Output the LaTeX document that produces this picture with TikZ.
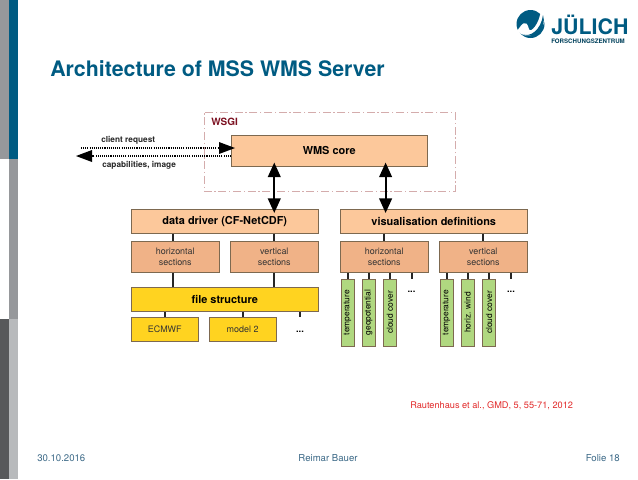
\documentclass[tikz,border=0pt]{standalone}
\usepackage{fontspec}
\setmainfont{TeX Gyre Heros}
\usetikzlibrary{arrows.meta}
\definecolor{juelichblue}{RGB}{0,91,130}
\definecolor{stripegray}{RGB}{150,152,155}
\definecolor{stripedark}{RGB}{88,89,91}
\definecolor{stripelight}{RGB}{184,186,188}
\definecolor{coreorange}{RGB}{252,200,155}
\definecolor{sectionorange}{RGB}{240,178,135}
\definecolor{fileyellow}{RGB}{255,211,32}
\definecolor{modelgreen}{RGB}{176,216,128}
\definecolor{boxedge}{RGB}{125,105,80}
\definecolor{wsgired}{RGB}{123,16,32}
\definecolor{footerblue}{RGB}{60,105,135}
\tikzset{
  corebox/.style={draw=boxedge,fill=coreorange,anchor=north west,inner sep=0pt,align=center,text=black,font=\fontsize{8.2}{10}\selectfont\bfseries},
  sectionbox/.style={draw=boxedge,fill=sectionorange,anchor=north west,inner sep=0pt,align=center,text=black!80,font=\fontsize{6.7}{8.6}\selectfont,minimum width=66pt,minimum height=23.25pt},
  filebox/.style={draw=boxedge,fill=fileyellow,anchor=north west,inner sep=0pt,align=center,text=black!80,font=\fontsize{6.7}{8.6}\selectfont,minimum height=18pt},
  quantitybox/.style={draw=boxedge,fill=modelgreen,rotate=90,inner sep=0pt,text=black,font=\fontsize{6.3}{8}\selectfont,minimum width=50.25pt,minimum height=10pt},
  tick/.style={draw=black!85,line width=1.5pt},
  corearrow/.style={black,line width=1.6pt,{Triangle[length=11pt,width=9.5pt]}-{Triangle[length=11pt,width=9.5pt]},shorten <=-3pt,shorten >=-3pt},
  dataflow/.style={black,line width=2.2pt,dash pattern=on 0.8pt off 0.8pt,-{Triangle[length=12pt,width=9pt,line width=0pt,round=false]}},
  flowlabel/.style={inner sep=0pt,anchor=west,text=black!85,font=\fontsize{6.2}{8}\selectfont\bfseries},
  dotsmark/.style={inner sep=0pt,font=\fontsize{7}{8}\selectfont\bfseries},
  footertext/.style={inner sep=0pt,text=footerblue,font=\fontsize{7.2}{9}\selectfont}
}
\begin{document}
\begin{tikzpicture}[x=0.75pt,y=0.75pt,yscale=-1,xscale=1]
\useasboundingbox (0,0) rectangle (638,479);

% side stripes
\fill [stripegray] (0,0) rectangle (9,159);
\fill [juelichblue] (9,0) rectangle (17.5,159);
\fill [stripegray] (9,159) rectangle (17.5,319);
\fill [stripedark] (0,319) rectangle (9,479);
\fill [stripelight] (9,319) rectangle (17.5,479);

% logo
\fill [juelichblue] (530.5,24) circle [radius=14];
\fill [white] (517,31) .. controls (522,24) and (526,18) .. (529,29) .. controls (530,34) and (540,24) .. (541,9) -- (546,11) .. controls (548,24) and (536,37) .. (526,35.5) .. controls (522,35) and (519,33) .. (517,31) -- cycle ;
\fill [juelichblue] (522,34) .. controls (530,38) and (541,30) .. (543,15) .. controls (547,28) and (536,40) .. (522,34) -- cycle ;
\node (logoname) [inner sep=0pt,anchor=west,text=juelichblue,font=\fontsize{16}{16}\selectfont\bfseries] at (551,25) {JÜLICH};
\node (logosub) [inner sep=0pt,anchor=west,text=juelichblue!70!black,font=\fontsize{4.6}{5}\selectfont\bfseries] at (551,41) {FORSCHUNGSZENTRUM};

% title
\node (title) [inner sep=0pt,anchor=west,text=juelichblue,font=\fontsize{16}{18}\selectfont\bfseries] at (50,69) {Architecture of MSS WMS Server};

% WSGI frame
\node (wsgiframe) [draw={rgb,255:red,212;green,172;blue,172},dash pattern=on 6pt off 2pt on 1pt off 2pt,anchor=north west,inner sep=0pt,minimum width=188.5pt,minimum height=59.25pt] at (203.5,112) {};
\node (wsgilabel) [inner sep=0pt,anchor=west,text=wsgired,font=\fontsize{7.5}{9}\selectfont\bfseries] at (211,122) {WSGI};

% boxes
\node (core) [corebox,minimum width=147pt,minimum height=23.25pt] at (231,135) {WMS core};
\node (driver) [corebox,minimum width=140.25pt,minimum height=18pt] at (131,209) {data driver (CF-NetCDF)};
\node (visdefs) [corebox,minimum width=140.25pt,minimum height=18pt] at (340,209) {visualisation definitions};

\node (driverhor) [sectionbox] at (131,241) {horizontal\\sections};
\node (driverver) [sectionbox] at (230,241) {vertical\\sections};
\node (vishor) [sectionbox] at (340,241) {horizontal\\sections};
\node (visver) [sectionbox] at (439,241) {vertical\\sections};

\node (filestruct) [filebox,text=black,font=\fontsize{8.2}{10}\selectfont\bfseries,minimum width=140.25pt] at (131,287) {file structure};
\node (ecmwf) [filebox,minimum width=50.25pt] at (131,317) {ECMWF};
\node (modeltwo) [filebox,minimum width=50pt] at (209,317) {model 2};

\node (temphor) [quantitybox] at (347.5,312.5) {temperature};
\node (geohor) [quantitybox] at (368.5,312.5) {geopotential};
\node (cloudhor) [quantitybox] at (389.75,312.5) {cloud cover};
\node (tempver) [quantitybox] at (446.5,312.5) {temperature};
\node (windver) [quantitybox] at (467.5,312.5) {horiz. wind};
\node (cloudver) [quantitybox] at (489,312.5) {cloud cover};

% dots
\node (filedots) [dotsmark] at (300,332) {...};
\node (hordots) [dotsmark] at (411.5,292) {...};
\node (verdots) [dotsmark] at (511,292) {...};

% connectors
\draw [corearrow] (driverver.north |- core.south) -- (driverver.north |- driver.north);
\draw [corearrow] ([xshift=1pt]vishor.north |- core.south) -- ([xshift=1pt]vishor.north |- visdefs.north);

\coordinate (clientend) at (81,148);
\coordinate (imageend) at (76,156);
\draw [dataflow] (clientend) -- (clientend -| core.west) -- ([xshift=3pt]clientend -| core.west);
\draw [dataflow] (imageend -| core.west) -- (imageend);

\draw [tick] ([xshift=-1.5pt]driverhor.north |- driver.south) -- ([xshift=-1.5pt]driverhor.north);
\draw [tick] (driverver.north |- driver.south) -- (driverver.north);
\draw [tick] ([xshift=-1.5pt]driverhor.south) -- ([xshift=-1.5pt]driverhor.south |- filestruct.north);
\draw [tick] (driverver.south) -- (driverver.south |- filestruct.north);
\draw [tick] (ecmwf.north |- filestruct.south) -- (ecmwf.north);
\draw [tick] (modeltwo.north |- filestruct.south) -- (modeltwo.north);
\coordinate (filedotstop) at (300,317);
\draw [tick] (filedotstop |- filestruct.south) -- (filedotstop);

\draw [tick] (vishor.north |- visdefs.south) -- (vishor.north);
\draw [tick] (visver.north |- visdefs.south) -- (visver.north);
\foreach \name/\parent in {temphor/vishor,geohor/vishor,cloudhor/vishor,tempver/visver,windver/visver,cloudver/visver}
  \draw [tick] (\name.east |- \parent.south) -- (\name.east);
\coordinate (hordotstop) at (411.5,279);
\coordinate (verdotstop) at (511,279);
\draw [tick] (hordotstop |- vishor.south) -- (hordotstop);
\draw [tick] (verdotstop |- visver.south) -- (verdotstop);

% labels
\node (clientlabel) [flowlabel] at (101,140) {client request};
\node (imagelabel) [flowlabel] at (102,165) {capabilities, image};
\node (citation) [inner sep=0pt,anchor=west,text={rgb,255:red,225;green,40;blue,40},font=\fontsize{6.9}{9}\selectfont] at (410,406) {Rautenhaus et al., GMD, 5, 55-71, 2012};

% footer
\node (datelabel) [footertext,anchor=west] at (37,458) {30.10.2016};
\node (authorlabel) [footertext] at (328,458) {Reimar Bauer};
\node (pagelabel) [footertext,anchor=east] at (620,458) {Folie 18};

\end{tikzpicture}
\end{document}
